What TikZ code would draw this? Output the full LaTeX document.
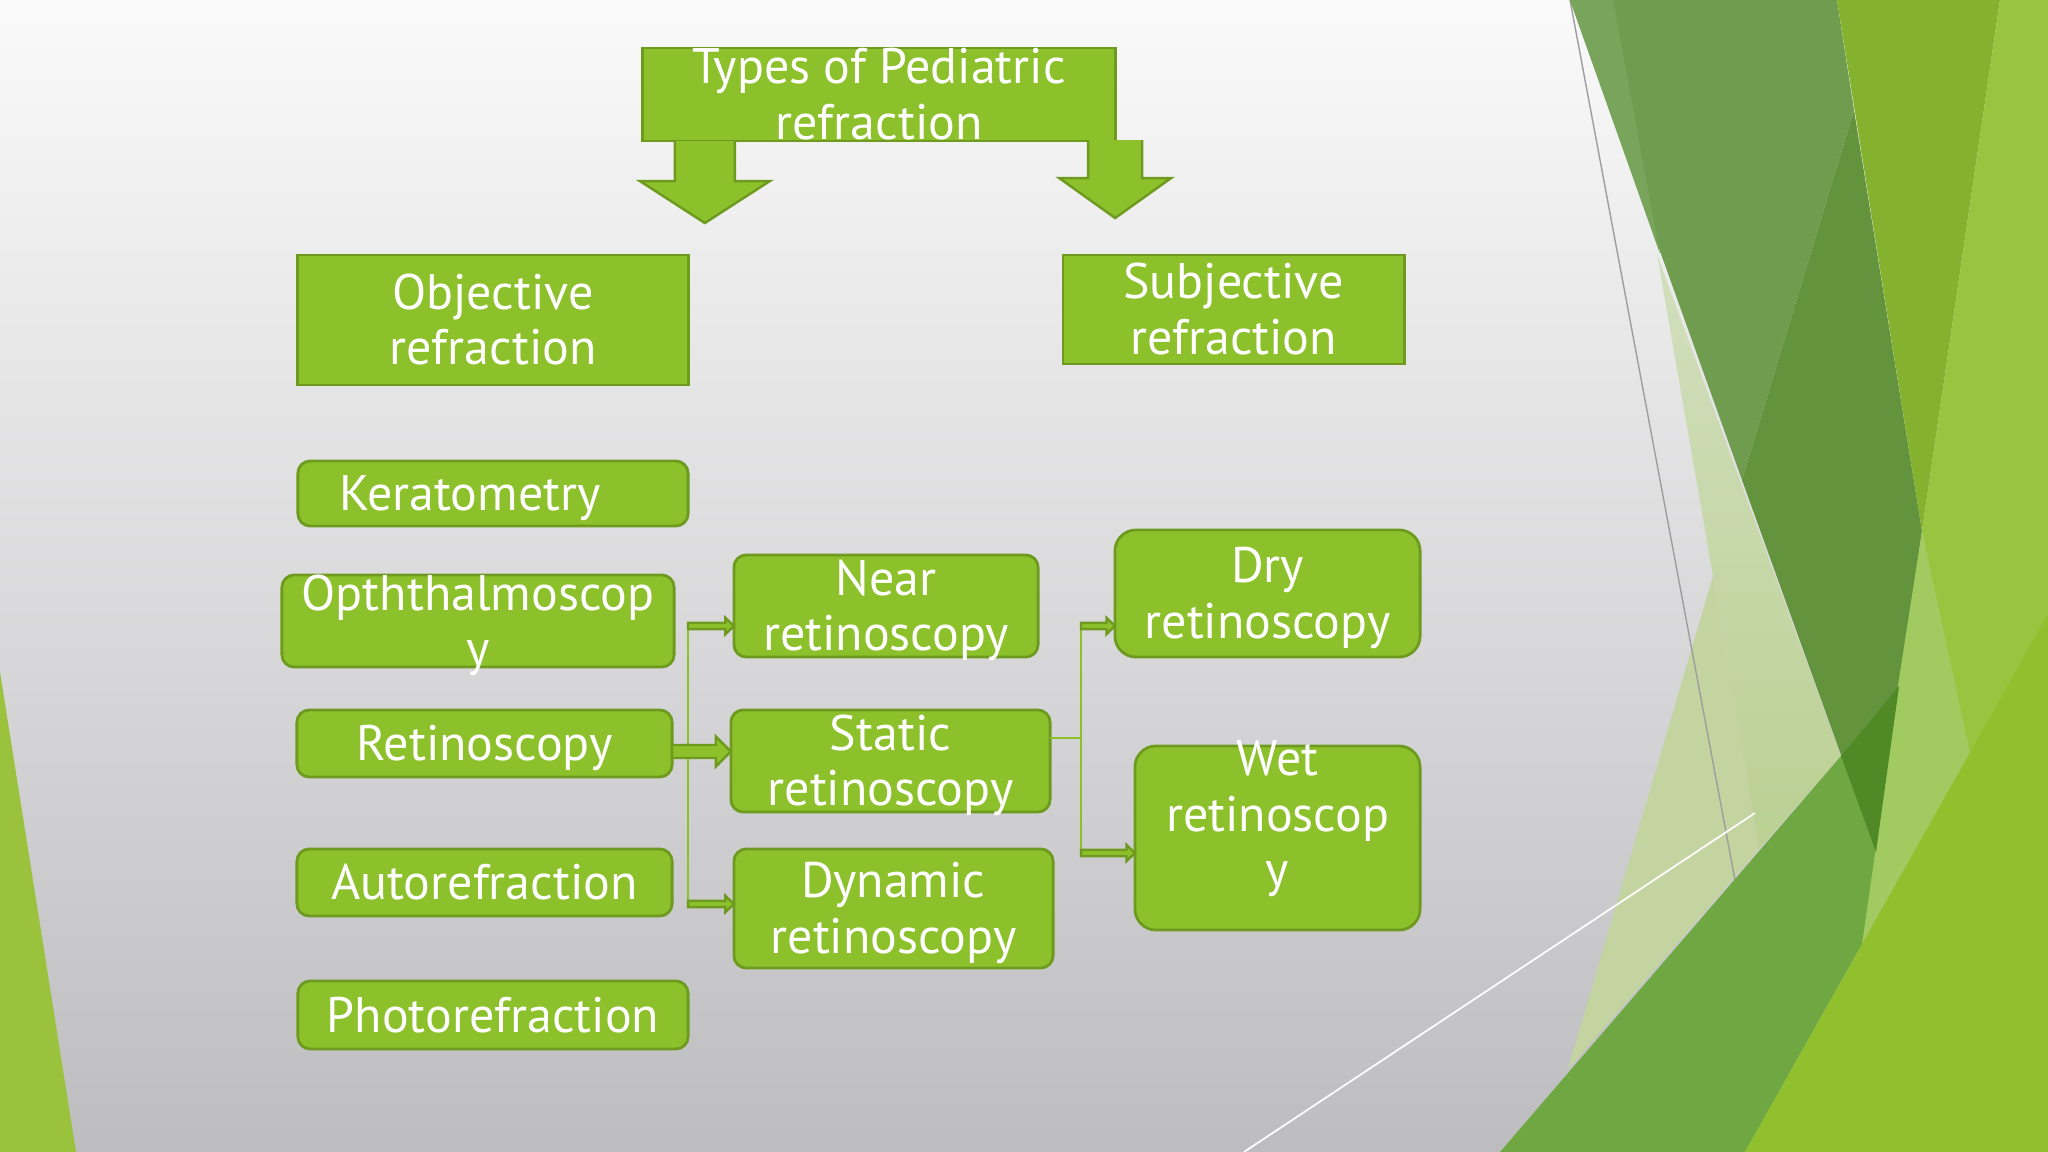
\documentclass[tikz,border=0pt]{standalone}
\usepackage{fontspec}
\setmainfont{PT Sans}
\usetikzlibrary{calc}
\definecolor{boxfill}{HTML}{8CC12B}
\definecolor{boxline}{HTML}{6E9A1F}
\definecolor{bgtop}{HTML}{FAFAFA}
\definecolor{bgbot}{HTML}{BDBCBF}
\definecolor{leftgreen}{HTML}{9AC23D}
\definecolor{paleA}{HTML}{D2DFBE}
\definecolor{paleB}{HTML}{BBD093}
\definecolor{paleC}{HTML}{C3D4A1}
\definecolor{darkA}{HTML}{6F9C4F}
\definecolor{darkS}{HTML}{78A45B}
\definecolor{darkB}{HTML}{64933E}
\definecolor{darkC}{HTML}{4F8A27}
\definecolor{olive}{HTML}{84B22F}
\definecolor{lband}{HTML}{97C540}
\definecolor{ltri}{HTML}{A1CB60}
\definecolor{midg}{HTML}{6FA843}
\definecolor{brightg}{HTML}{90C02D}
\newcommand{\boxfont}{\fontsize{14.2pt}{15.7pt}\selectfont}
\newcommand{\harrow}[5]{%
  \draw[arrowshape] let \p1=(#1), \p2=(#2) in
    (\x1,\y1+#3) -- (\x2-#5,\y1+#3) -- (\x2-#5,\y1+#4) -- (\x2,\y1)
    -- (\x2-#5,\y1-#4) -- (\x2-#5,\y1-#3) -- (\x1,\y1-#3) -- cycle;}
\tikzset{
  box/.style={draw=boxline, fill=boxfill, line width=0.8pt, inner sep=0pt,
    outer sep=0pt},
  sbox/.style={box},
  rbox/.style={box, rounded corners=3.5pt},
  lbox/.style={box, rounded corners=6pt},
  btext/.style={text=white, font=\boxfont, align=center, inner sep=0pt},
  arrowshape/.style={draw=boxline, fill=boxfill, line width=0.7pt, line join=miter},
  thinlink/.style={draw=boxfill, line width=0.6pt}
}
\begin{document}
\begin{tikzpicture}[x=0.01cm,y=-0.01cm]
\useasboundingbox (0,0) rectangle (2048,1152);
% background
\begin{scope}[y=0.01cm]
\shade[top color=bgtop, bottom color=bgbot] (0,-1152) rectangle (2048,0);
\end{scope}
\fill[leftgreen] (0,672) -- (76,1152) -- (0,1152) -- cycle;
% decorative facets on the right
\begin{scope}[y=0.01cm]
\shade[top color=paleA, bottom color=paleB] (1657,-254) -- (1713,-576) -- (1759,-849) -- (1841,-756) -- cycle;
\end{scope}
\fill[paleC] (1713,576) -- (1568,1069) -- (1759,849) -- cycle;
\draw[color=black!38, line width=0.4pt] (1570,0) -- (1735,880);
\draw[color=white, line width=0.5pt] (1244,1152) -- (1755,813);
\fill[darkA] (1570,0) -- (1837,0) -- (1854,110) -- (1742,480) -- cycle;
\fill[darkS] (1570,0) -- (1613,0) -- (1660,254) -- cycle;
\fill[darkB] (1854,110) -- (1922,531) -- (1876,852) -- (1742,480) -- cycle;
\fill[olive] (1837,0) -- (2000,0) -- (1922,531) -- cycle;
\fill[lband] (2000,0) -- (2048,0) -- (2048,640) -- (1968,758) -- (1922,531) -- cycle;
\fill[ltri] (1922,531) -- (1972,762) -- (1855,962) -- cycle;
\fill[midg] (1500,1152) -- (1841,756) -- (1899,686) -- (1862,944) -- (1745,1152) -- cycle;
\fill[darkC] (1841,756) -- (1899,686) -- (1876,852) -- cycle;
\fill[brightg] (2048,614) -- (2048,1152) -- (1745,1152) -- cycle;

% boxes
\node[sbox, minimum width=4.72cm, minimum height=0.93cm] (types) at (879,94.5) {};
\node[sbox, minimum width=3.90cm, minimum height=1.30cm] (obj) at (493,320) {};
\node[sbox, minimum width=3.41cm, minimum height=1.09cm] (subj) at (1233.5,309.5) {};
\node[rbox, minimum width=3.90cm, minimum height=0.65cm] (kera) at (493,493.5) {};
\node[rbox, minimum width=3.92cm, minimum height=0.92cm] (opth) at (478,621) {};
\node[rbox, minimum width=3.75cm, minimum height=0.67cm] (ret) at (484.5,743.5) {};
\node[rbox, minimum width=3.75cm, minimum height=0.67cm] (auto) at (484.5,882.5) {};
\node[rbox, minimum width=3.90cm, minimum height=0.68cm] (photo) at (493,1015) {};
\node[rbox, minimum width=3.04cm, minimum height=1.02cm] (near) at (886,606) {};
\node[rbox, minimum width=3.19cm, minimum height=1.02cm] (static) at (890.5,761) {};
\node[rbox, minimum width=3.19cm, minimum height=1.19cm] (dyn) at (893.5,908.5) {};
\node[lbox, minimum width=3.05cm, minimum height=1.27cm] (dry) at (1267.5,593.5) {};
\node[lbox, minimum width=2.85cm, minimum height=1.84cm] (wet) at (1277.5,838) {};

% texts
\node[btext] (types-t) at ($(types.center)+(0,6)$) {\strut Types of Pediatric\\refraction\strut};
\node[btext] (obj-t) at ($(obj.center)+(0,6)$) {\strut Objective\\refraction\strut};
\node[btext] (subj-t) at ($(subj.center)+(0,6)$) {\strut Subjective\\refraction\strut};
\node[btext] (kera-t) at ($(kera.center)+(-23,6)$) {\strut Keratometry};
\node[btext] (opth-t) at ($(opth.center)+(0,6)$) {\strut Opththalmoscop\\y\strut};
\node[btext] (ret-t) at ($(ret.center)+(0,6)$) {\strut Retinoscopy};
\node[btext] (auto-t) at ($(auto.center)+(0,6)$) {\strut Autorefraction};
\node[btext] (photo-t) at ($(photo.center)+(0,6)$) {\strut Photorefraction};
\node[btext] (near-t) at ($(near.center)+(0,6)$) {\strut Near\\retinoscopy\strut};
\node[btext] (static-t) at ($(static.center)+(0,6)$) {\strut Static\\retinoscopy\strut};
\node[btext] (dyn-t) at ($(dyn.center)+(0,6)$) {\strut Dynamic\\retinoscopy\strut};
\node[btext] (dry-t) at ($(dry.center)+(0,6)$) {\strut Dry\\retinoscopy\strut};
\node[btext] (wet-t) at ($(wet.center)+(0,-18)$) {\strut Wet\\retinoscop\\y\strut};

% big down arrows under the title box
\coordinate (al) at ($(types.south west)+(62,0)$);
\coordinate (ar) at (types.south east);
\draw[arrowshape] ($(al)+(-30,0)$) -- ($(al)+(-30,40)$) -- ($(al)+(-65,40)$)
  -- ($(al)+(0,82)$) -- ($(al)+(65,40)$) -- ($(al)+(30,40)$) -- ($(al)+(30,0)$);
\draw[arrowshape] ($(ar)+(-27,-1)$) -- ($(ar)+(-27,37)$) -- ($(ar)+(-56,37)$)
  -- ($(ar)+(0,77)$) -- ($(ar)+(56,37)$) -- ($(ar)+(27,37)$) -- ($(ar)+(27,-1)$);

% connectors
\coordinate (rs) at ($(ret.east)+(0,8)$);
\coordinate (lt) at (688,626);
\coordinate (lb) at (688,904);
\coordinate (se) at ($(static.east)+(0,-23)$);
\coordinate (rm) at (1081,738);
\coordinate (rt) at (1081,626);
\coordinate (rb) at (1081,853);
\draw[thinlink] (lt) -- (lb);
\draw[thinlink] (se) -- (rm);
\draw[thinlink] (rt) -- (rb);
\harrow{rs}{static.west}{1.85pt}{4.3pt}{4.3pt}
\harrow{lt}{near.west}{0.9pt}{2.3pt}{2.4pt}
\harrow{lb}{dyn.west}{0.9pt}{2.3pt}{2.4pt}
\harrow{rt}{dry.west}{0.9pt}{2.3pt}{2.4pt}
\harrow{rb}{wet.west}{0.9pt}{2.3pt}{2.4pt}
\end{tikzpicture}
\end{document}
